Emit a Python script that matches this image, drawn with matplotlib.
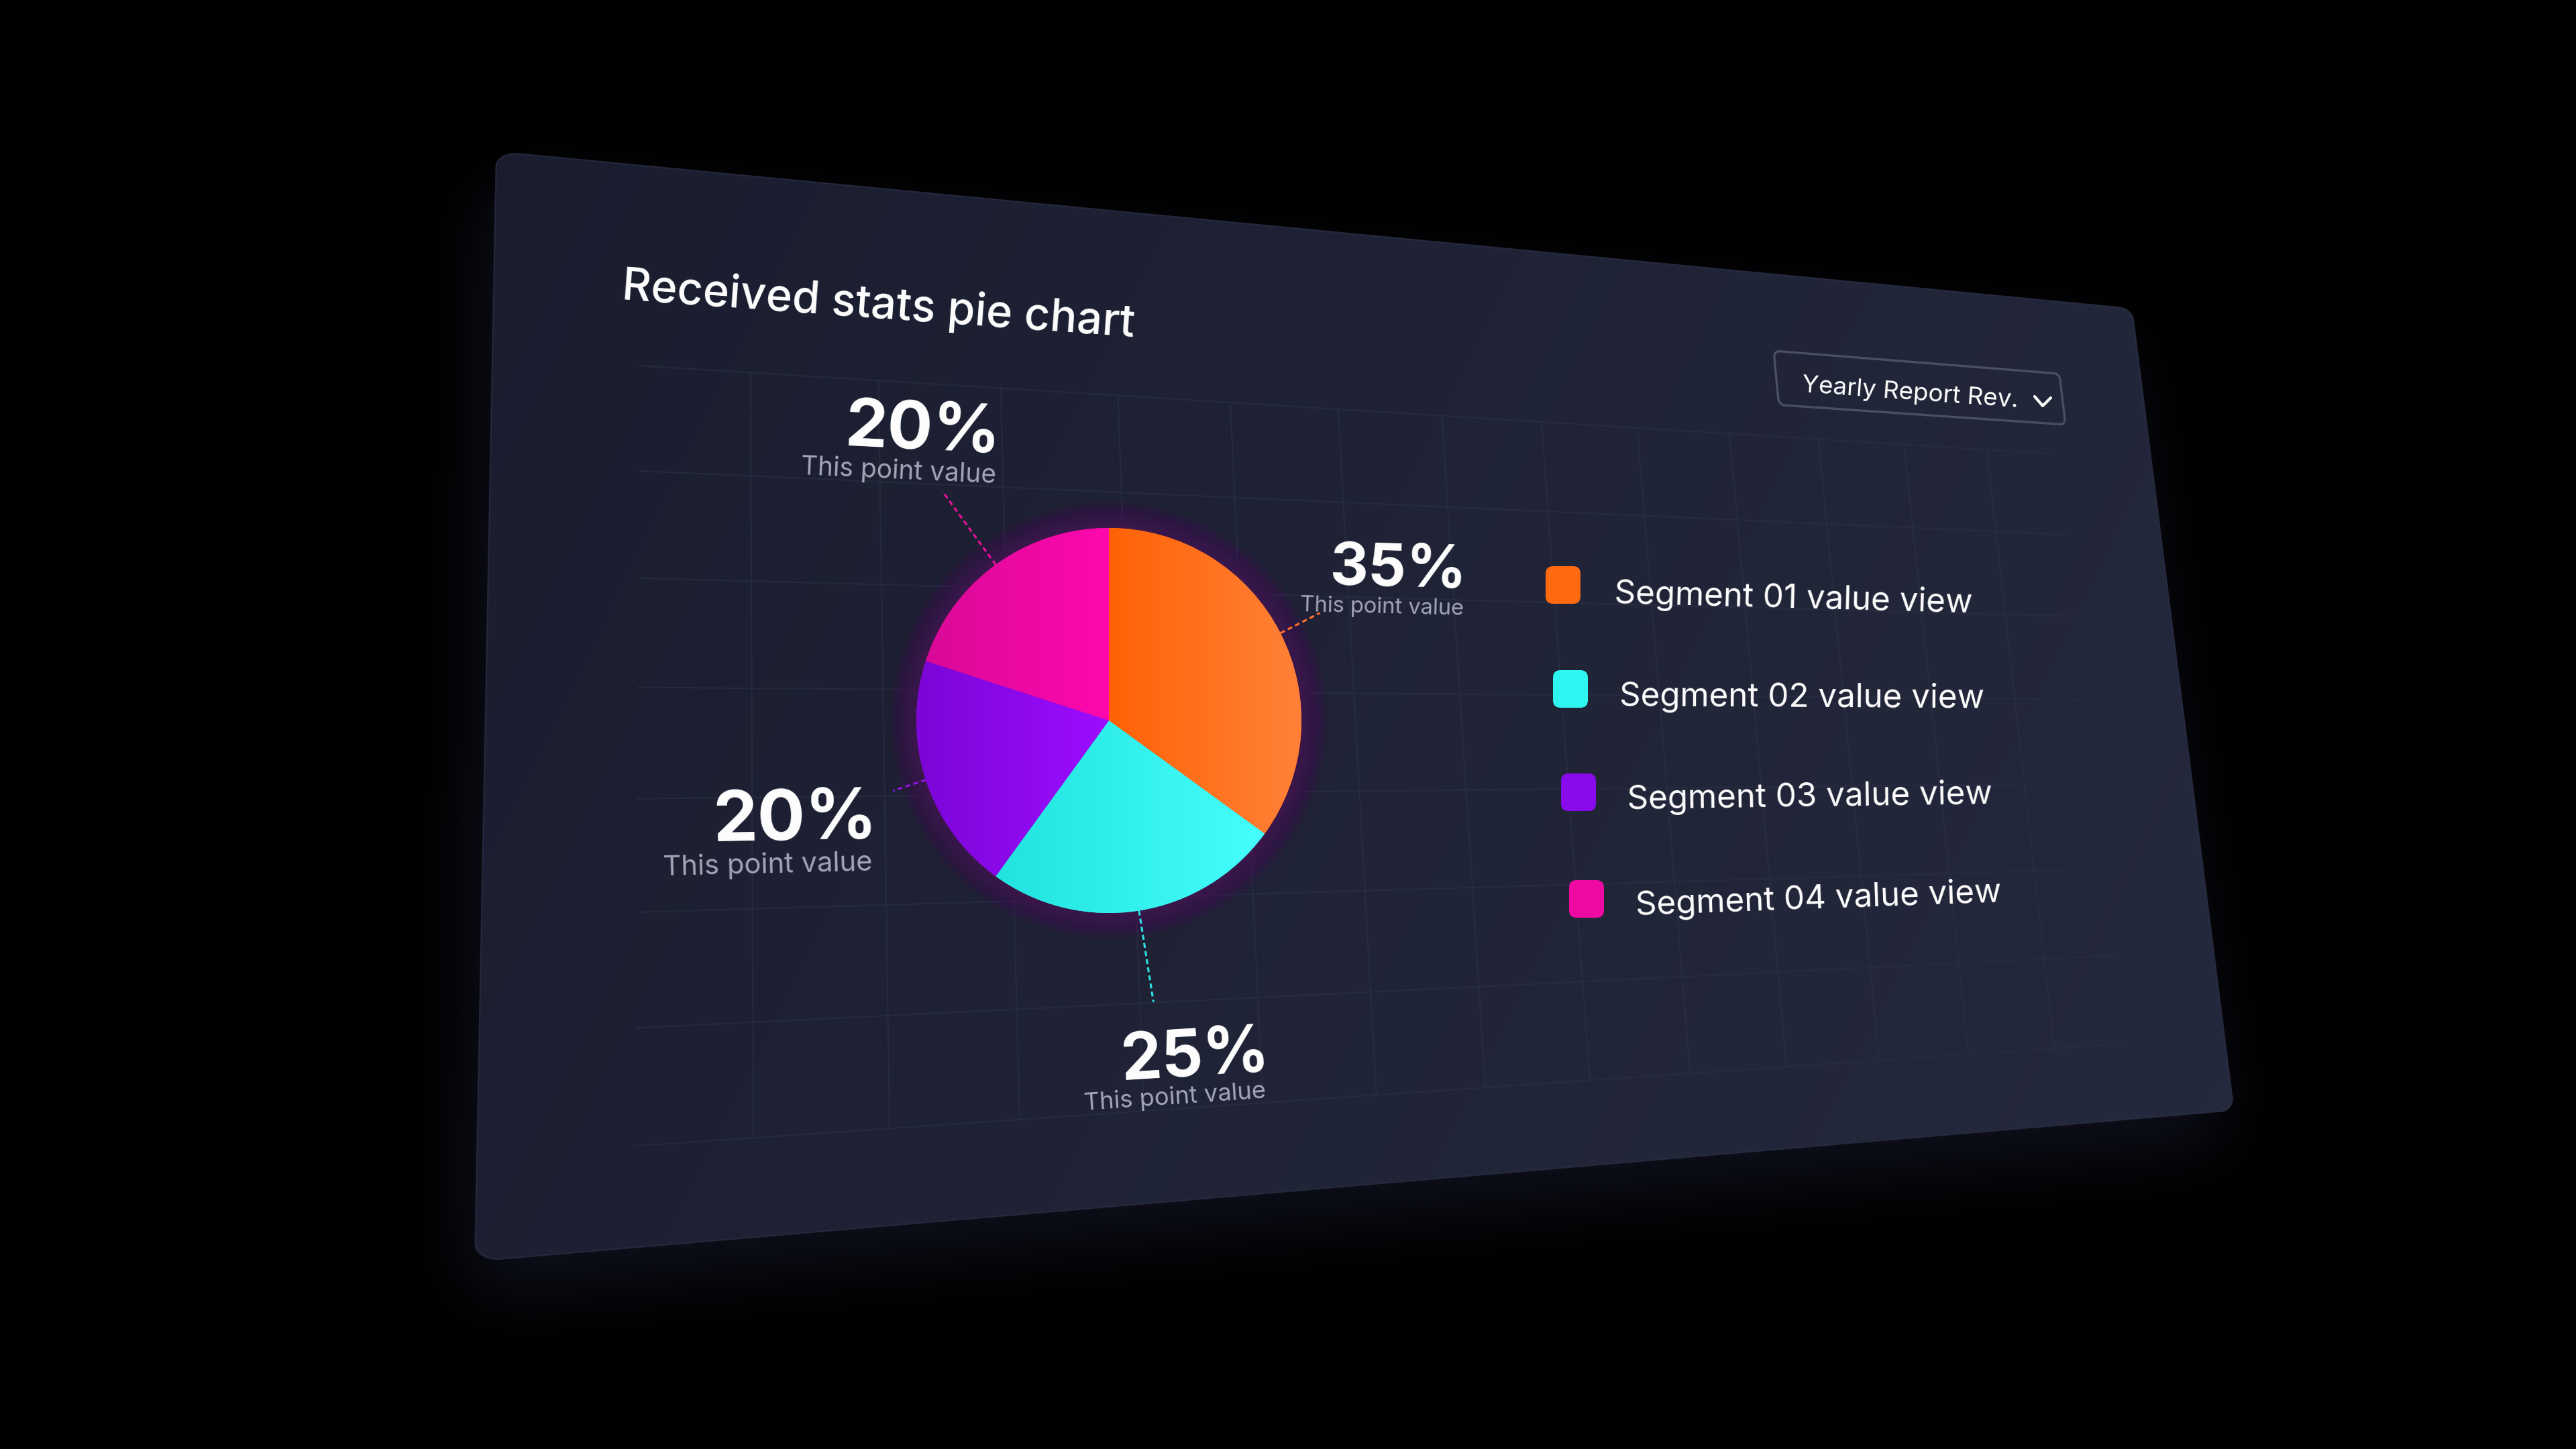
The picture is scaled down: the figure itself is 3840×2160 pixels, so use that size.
import numpy as np
import matplotlib
matplotlib.use("Agg")
import matplotlib.pyplot as plt
from matplotlib.patches import Polygon, Circle, FancyBboxPatch
from matplotlib.colors import LinearSegmentedColormap, to_rgb
from matplotlib.path import Path

plt.rcParams['font.family'] = ['Inter', 'DejaVu Sans']

# data
segments = ["Segment 01 value view", "Segment 02 value view",
            "Segment 03 value view", "Segment 04 value view"]
values = [35, 25, 20, 20]
colors = ["#ff6a10", "#2ff5f0", "#8a0aee", "#f00aa4"]
grad_colors = [("#ff6206", "#ff8238"), ("#22e3df", "#44fffc"),
               ("#7a06d6", "#9d0cff"), ("#d90a98", "#ff08ae")]
dash_colors = ["#ff6f2a", "#30e0e8", "#9012e0", "#e8129a"]
sub_label = "This point value"
title = "Received stats pie chart"
dropdown = "Yearly Report Rev."

# layout (pixel positions on the 3840x2160 canvas)
W, H_PX = 3840, 2160
card_corners = [(740, 226), (3178, 460), (3330, 1655), (708, 1880)]
pie_center = (1653, 1074)
pie_r = 287
leader_len = [0.23, 0.48, 0.18, 0.47]
# (big right x, big baseline, small right x, small baseline, big size, small size)
label_pos = [(2186, 877, 2182, 917, 64, 23.5),
             (1894, 1596, 1888, 1637, 70, 26.2),
             (1308, 1250, 1301, 1298, 76, 30),
             (1491, 676, 1484, 720, 72, 28)]
legend_box = [(2330, 872), (2341, 1027), (2353, 1181), (2365, 1340)]
legend_txt = [(2406, 899), (2414, 1052), (2426, 1206), (2439, 1364)]


def fit_h(src, dst):
    A, b = [], []
    for (x, y), (X, Y) in zip(src, dst):
        A.append([x, y, 1, 0, 0, 0, -X * x, -X * y]); b.append(X)
        A.append([0, 0, 0, x, y, 1, -Y * x, -Y * y]); b.append(Y)
    h = np.linalg.solve(np.array(A, float), np.array(b, float))
    return np.append(h, 1).reshape(3, 3)


def warp(M, pts):
    pts = np.atleast_2d(np.asarray(pts, float))
    p = np.c_[pts, np.ones(len(pts))] @ M.T
    return p[:, :2] / p[:, 2:3]


def rrect(u0, v0, u1, v1, ru, rv, n=14):
    pts = []
    for cu, cv, a0 in [(u1 - ru, v0 + rv, -90), (u1 - ru, v1 - rv, 0),
                       (u0 + ru, v1 - rv, 90), (u0 + ru, v0 + rv, 180)]:
        a = np.radians(np.linspace(a0, a0 + 90, n))
        pts += list(zip(cu + ru * np.cos(a), cv + rv * np.sin(a)))
    return np.array(pts)


Hm = fit_h([(0, 0), (1, 0), (1, 1), (0, 1)], card_corners)
Hinv = np.linalg.inv(Hm)


def uv(x, y):
    return warp(Hinv, [(x, y)])[0]


def rot_at(x, y):
    u, v = uv(x, y)
    p = warp(Hm, [(u, v), (u + 0.01, v)])
    d = p[1] - p[0]
    return np.degrees(np.arctan2(-d[1], d[0]))


fig = plt.figure(figsize=(38.4, 21.6), dpi=100, facecolor="black")
ax = fig.add_axes([0, 0, 1, 1])
ax.set_facecolor("black")

# soft shadow under the card
card_xy = warp(Hm, rrect(0, 0, 1, 1, 0.010, 0.015))
gx, gy = np.meshgrid(np.arange(480) * 8 + 4, np.arange(270) * 8 + 4)
mask = Path(card_xy + [-15, 50]).contains_points(
    np.c_[gx.ravel(), gy.ravel()]).reshape(270, 480).astype(float)
k = np.ones(13) / 13
for _ in range(3):
    mask = np.apply_along_axis(lambda r: np.convolve(r, k, mode="same"), 1, mask)
    mask = np.apply_along_axis(lambda c: np.convolve(c, k, mode="same"), 0, mask)
shadow = np.zeros((270, 480, 4))
shadow[..., :3] = to_rgb("#0c0d16")
shadow[..., 3] = np.clip(mask * 1.3, 0, 1)
ax.imshow(shadow, extent=(0, W, H_PX, 0), zorder=0, interpolation="bilinear")

# card with gradient fill
card = Polygon(card_xy, closed=True, fc="#1e2133", ec="none", zorder=1)
ax.add_patch(card)
cl, cr = np.array(to_rgb("#1a1d2e")), np.array(to_rgb("#25293d"))
xx, yy = np.meshgrid(np.linspace(0, 1, 200), np.linspace(0, 1, 120))
t = np.clip(0.8 * xx + 0.25 * yy, 0, 1)[..., None]
im = ax.imshow(cl + (cr - cl) * t, extent=(700, 3340, 1890, 220),
               zorder=1.1, interpolation="bilinear")
im.set_clip_path(card)
ax.add_patch(Polygon(card_xy, closed=True, fill=False, ec="#2c3046",
                     lw=1.5, alpha=0.7, zorder=1.2))

# faint grid on the card
u_left = uv(951, 1100)[0]
u_right = uv(3168, 1557)[0]
v_top = uv(951, 545)[1]
v_bot = uv(951, 1708)[1]
ua = uv(1123, 1700)[0]
ub = uv(3063, 1570)[0]
for v in np.linspace(v_top, v_bot, 8):
    p = warp(Hm, [(u_left, v), (u_right, v)])
    ax.plot(p[:, 0], p[:, 1], color="#2a2e44", lw=1.6, alpha=0.7, zorder=2)
for u in np.linspace(ua, ub, 13):
    p = warp(Hm, [(u, v_top), (u, v_bot)])
    ax.plot(p[:, 0], p[:, 1], color="#2a2e44", lw=1.6, alpha=0.7, zorder=2)

# glow around the pie
for i in range(28):
    r = pie_r + 42 * (1 - i / 28)
    ax.add_patch(Circle(pie_center, r, color="#c8169e", alpha=0.013,
                        lw=0, zorder=3))

# title
tx, ty = 926, 446
ax.text(tx, ty, title, color="white", fontsize=48, fontweight="medium",
        ha="left", va="baseline", rotation=rot_at(tx, ty),
        rotation_mode="anchor", zorder=6)

# dropdown
box_a = uv(2644, 523)
box_b = uv(3079, 633)
box_xy = warp(Hm, rrect(box_a[0], box_a[1], box_b[0], box_b[1], 0.004, 0.008))
ax.add_patch(Polygon(box_xy, closed=True, fill=False, ec="#4a4e66",
                     lw=2.4, zorder=5))
dx, dy = 2686, 584
ax.text(dx, dy, dropdown, color="white", fontsize=26.5, ha="left",
        va="baseline", rotation=rot_at(dx, dy), rotation_mode="anchor",
        zorder=6)
ax.plot([3033, 3045, 3057], [591, 605, 593], color="white", lw=3,
        solid_capstyle="round", solid_joinstyle="round", zorder=6)

# percentage labels
for i, v in enumerate(values):
    bx, by, sx, sy, bs, ss = label_pos[i]
    ax.text(bx, by, f"{v}%", color="white", fontsize=bs, fontweight="bold",
            ha="right", va="baseline", rotation=rot_at(bx, by),
            rotation_mode="anchor", zorder=6)
    ax.text(sx, sy, sub_label, color="#a3a6b8", fontsize=ss, ha="right",
            va="baseline", rotation=rot_at(sx, sy), rotation_mode="anchor",
            zorder=6)

# legend
for i, name in enumerate(segments):
    cx, cy = legend_box[i]
    ax.add_patch(FancyBboxPatch((cx - 26, cy - 28), 52, 56,
                                boxstyle="round,pad=0,rounding_size=11",
                                fc=colors[i], ec="none", zorder=6))
    lx, ly = legend_txt[i]
    ax.text(lx, ly, name, color="white", fontsize=35.5, ha="left",
            va="baseline", rotation=rot_at(lx, ly), rotation_mode="anchor",
            zorder=6)

ax.set_xlim(0, W)
ax.set_ylim(H_PX, 0)
ax.set_aspect("auto")
ax.axis("off")

# pie
pax = fig.add_axes([(pie_center[0] - pie_r) / W, 1 - (pie_center[1] + pie_r) / H_PX,
                    2 * pie_r / W, 2 * pie_r / H_PX])
wedges, _ = pax.pie(values, colors=colors, startangle=90, counterclock=False,
                    radius=1, wedgeprops=dict(linewidth=0))
for i, w in enumerate(wedges):
    verts = w.get_path().vertices
    x0, x1 = verts[:, 0].min(), verts[:, 0].max()
    cmap = LinearSegmentedColormap.from_list(f"g{i}", grad_colors[i])
    g = pax.imshow(np.linspace(0, 1, 256).reshape(1, -1), cmap=cmap,
                   extent=(x0, x1, -1, 1), aspect="auto", zorder=2,
                   interpolation="bilinear")
    g.set_clip_path(w)
    th = np.radians((w.theta1 + w.theta2) / 2)
    rr = np.array([1.0, 1.0 + leader_len[i]])
    pax.plot(rr * np.cos(th), rr * np.sin(th), color=dash_colors[i], lw=2.2,
             ls=(0, (2.4, 1.6)), clip_on=False, zorder=1)
pax.set_xlim(-1, 1)
pax.set_ylim(-1, 1)
pax.set_aspect("auto")
pax.axis("off")

fig.savefig("out.png", dpi=100, facecolor="black")
